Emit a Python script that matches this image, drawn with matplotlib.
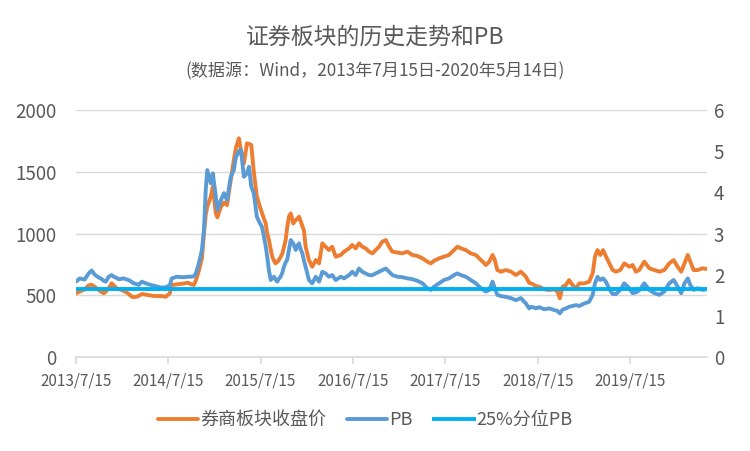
import matplotlib
matplotlib.use("Agg")
import matplotlib.pyplot as plt
import pandas as pd

plt.rcParams['font.family'] = ['Noto Sans CJK SC', 'DejaVu Sans']

title = "证券板块的历史走势和PB"
subtitle = "(数据源：Wind，2013年7月15日-2020年5月14日)"
series_names = ["券商板块收盘价", "PB", "25%分位PB"]

dates = [
    "2013-07-15", "2013-07-30", "2013-08-18", "2013-09-03", "2013-09-15", "2013-09-27",
    "2013-10-13", "2013-10-21", "2013-11-02", "2013-11-10", "2013-11-21", "2013-12-03",
    "2013-12-11", "2013-12-23", "2013-12-31", "2014-01-12", "2014-01-20", "2014-02-01",
    "2014-02-09", "2014-02-21", "2014-02-28", "2014-03-12", "2014-03-20", "2014-04-01",
    "2014-04-17", "2014-05-07", "2014-05-19", "2014-06-15", "2014-07-05", "2014-07-21",
    "2014-07-29",
    "2014-08-18", "2014-09-02", "2014-09-18", "2014-09-30", "2014-10-12", "2014-10-24",
    "2014-11-01", "2014-11-13", "2014-11-25", "2014-12-03", "2014-12-10", "2014-12-16",
    "2014-12-30", "2015-01-07", "2015-01-19", "2015-01-25", "2015-02-08", "2015-02-20",
    "2015-03-04", "2015-03-19", "2015-03-31", "2015-04-08", "2015-04-20", "2015-04-28",
    "2015-05-10", "2015-05-22", "2015-05-30", "2015-06-08", "2015-06-18", "2015-06-30",
    "2015-07-12",
    "2015-07-21", "2015-07-28", "2015-08-04", "2015-08-10", "2015-08-17", "2015-08-24",
    "2015-08-30", "2015-09-06", "2015-09-12", "2015-09-19", "2015-09-25", "2015-10-02",
    "2015-10-09", "2015-10-15", "2015-10-22", "2015-10-28", "2015-11-04", "2015-11-11",
    "2015-11-21", "2015-12-01", "2015-12-07", "2015-12-14", "2015-12-20", "2015-12-27",
    "2016-01-02", "2016-01-09", "2016-01-22", "2016-02-04", "2016-02-18", "2016-03-02",
    "2016-03-15", "2016-03-28", "2016-04-10", "2016-04-23", "2016-05-07", "2016-05-27",
    "2016-06-09", "2016-06-29",
    "2016-07-11", "2016-07-25", "2016-08-07", "2016-08-20", "2016-09-02", "2016-09-16",
    "2016-09-29", "2016-10-12", "2016-10-25", "2016-11-07", "2016-11-21", "2016-12-04",
    "2016-12-17", "2017-01-06", "2017-01-25", "2017-02-14", "2017-03-06", "2017-03-26",
    "2017-04-15", "2017-05-04", "2017-05-18", "2017-05-31", "2017-06-20",
    "2017-07-09", "2017-07-29", "2017-08-18", "2017-08-31", "2017-09-14", "2017-10-03",
    "2017-10-23", "2017-11-12", "2017-12-02", "2017-12-22", "2018-01-04", "2018-01-17",
    "2018-01-26", "2018-02-05", "2018-02-19", "2018-03-11", "2018-03-31", "2018-04-19",
    "2018-05-09", "2018-05-29", "2018-06-11",
    "2018-06-18", "2018-07-01", "2018-07-07", "2018-07-21", "2018-08-09", "2018-08-29",
    "2018-09-18", "2018-10-01", "2018-10-10", "2018-10-21", "2018-11-03", "2018-11-16",
    "2018-11-29", "2018-12-13", "2018-12-26", "2019-01-15", "2019-02-03", "2019-02-17",
    "2019-02-26", "2019-03-08", "2019-03-19", "2019-03-30", "2019-04-11", "2019-04-24",
    "2019-05-07", "2019-05-20", "2019-06-06",
    "2019-06-22", "2019-07-12", "2019-07-25", "2019-08-07", "2019-08-20", "2019-09-09",
    "2019-09-29", "2019-10-19", "2019-11-08", "2019-11-27", "2019-12-17", "2020-01-03",
    "2020-01-19", "2020-02-02", "2020-02-15", "2020-02-28", "2020-03-09", "2020-03-22",
    "2020-04-07", "2020-04-27", "2020-05-14",
]

close_price = [
    516, 529, 548, 580, 585, 569, 542, 530, 516, 530, 556, 597,
    580, 556, 550, 542, 535, 521, 510, 488, 485, 488, 495, 510,
    505, 498, 494, 494, 488, 516, 583,
    588, 591, 596, 602, 590, 583, 620, 700, 800, 1001, 1150, 1217,
    1298, 1380, 1163, 1130, 1217, 1250, 1230, 1433, 1595, 1690, 1771, 1676,
    1568, 1730, 1725, 1717, 1500, 1300, 1217,
    1163, 1120, 1082, 1000, 947, 870, 812, 780, 758, 770, 785, 810,
    839, 890, 947, 1050, 1136, 1163, 1082, 1109, 1120, 1136, 1100, 1060,
    1028, 893, 785, 731, 785, 758, 920, 893, 866, 893, 812, 826,
    853, 880,
    907, 880, 920, 893, 880, 853, 839, 866, 893, 934, 947, 893,
    853, 846, 839, 853, 826, 818, 799, 772, 758, 780, 799,
    812, 826, 866, 893, 880, 866, 839, 826, 785, 745, 772, 826,
    785, 704, 691, 704, 691, 664, 691, 650, 600,
    596, 583, 575, 569, 548, 542, 548, 529, 475, 569, 583, 623,
    583, 556, 596, 596, 610, 677, 812, 866, 826, 866, 812, 758,
    704, 691, 704,
    758, 731, 745, 691, 704, 772, 718, 704, 691, 704, 758, 785,
    731, 691, 758, 826, 772, 704, 704, 718, 712,
]

pb = [
    1.83, 1.91, 1.88, 2.03, 2.10, 2.00, 1.93, 1.91, 1.85, 1.83, 1.95, 1.99,
    1.95, 1.92, 1.89, 1.90, 1.91, 1.88, 1.87, 1.82, 1.79, 1.77, 1.75, 1.83,
    1.79, 1.75, 1.73, 1.69, 1.69, 1.75, 1.91,
    1.95, 1.94, 1.94, 1.95, 1.95, 1.96, 2.03, 2.28, 2.60, 3.09, 4.06, 4.54,
    4.22, 4.46, 3.89, 3.57, 3.81, 3.98, 3.81, 4.38, 4.54, 4.85, 5.00, 5.03,
    4.38, 4.46, 4.62, 4.14, 3.98, 3.41, 3.25,
    3.15, 2.92, 2.70, 2.44, 2.10, 1.87, 1.92, 1.95, 1.88, 1.83, 1.90, 1.95,
    2.05, 2.19, 2.30, 2.36, 2.60, 2.84, 2.76, 2.60, 2.70, 2.76, 2.62, 2.52,
    2.35, 2.19, 1.87, 1.79, 1.95, 1.83, 2.07, 2.03, 1.95, 1.99, 1.87, 1.95,
    1.91, 1.99,
    2.07, 1.99, 2.15, 2.07, 2.03, 1.99, 1.99, 2.03, 2.07, 2.11, 2.15, 2.07,
    1.99, 1.95, 1.94, 1.91, 1.89, 1.85, 1.79, 1.67, 1.63, 1.71, 1.79,
    1.87, 1.91, 1.99, 2.03, 1.99, 1.95, 1.87, 1.79, 1.67, 1.59, 1.63, 1.83,
    1.67, 1.51, 1.48, 1.46, 1.43, 1.38, 1.43, 1.30, 1.18,
    1.22, 1.20, 1.18, 1.21, 1.16, 1.18, 1.14, 1.12, 1.06, 1.15, 1.18, 1.22,
    1.24, 1.26, 1.24, 1.30, 1.34, 1.51, 1.79, 1.95, 1.87, 1.91, 1.82, 1.65,
    1.53, 1.53, 1.63,
    1.79, 1.67, 1.55, 1.57, 1.62, 1.79, 1.63, 1.55, 1.51, 1.59, 1.79, 1.87,
    1.71, 1.55, 1.79, 1.91, 1.75, 1.63, 1.67, 1.63, 1.65,
]

pb_25pct = 1.64

left_ticks = [0, 500, 1000, 1500, 2000]
right_ticks = [0, 1, 2, 3, 4, 5, 6]
x_tick_dates = ["2013-07-15", "2014-07-15", "2015-07-15", "2016-07-15",
                "2017-07-15", "2018-07-15", "2019-07-15"]
x_tick_labels = ["2013/7/15", "2014/7/15", "2015/7/15", "2016/7/15",
                 "2017/7/15", "2018/7/15", "2019/7/15"]

c_orange = "#ED7D31"
c_blue = "#5B9BD5"
c_cyan = "#00B0F0"
c_text = "#595959"
c_grid = "#D9D9D9"

d = pd.to_datetime(dates)

fig = plt.figure(figsize=(7.5, 4.51), dpi=100)
ax = fig.add_axes([76 / 750, 1 - 357 / 451, 631 / 750, 247 / 451])
ax2 = ax.twinx()

lw = 2.8
l1, = ax.plot(d, close_price, color=c_orange, lw=lw, solid_capstyle="round", zorder=2)
l2, = ax2.plot(d, pb, color=c_blue, lw=lw, solid_capstyle="round", zorder=3)
l3, = ax2.plot([d[0], d[-1]], [pb_25pct, pb_25pct], color=c_cyan, lw=lw, zorder=4)

ax.set_ylim(0, 2000)
ax2.set_ylim(0, 6)
ax.set_xlim(d[0], d[-1])
ax.set_yticks(left_ticks)
ax2.set_yticks(right_ticks)
ax.set_yticklabels([str(v) for v in left_ticks])
ax2.set_yticklabels([str(v) for v in right_ticks])
ax.set_xticks(pd.to_datetime(x_tick_dates))
ax.set_xticklabels(x_tick_labels)

ax.grid(axis="y", color=c_grid, lw=1)
ax.set_axisbelow(True)
for a in (ax, ax2):
    for s in ("top", "left", "right"):
        a.spines[s].set_visible(False)
    a.spines["bottom"].set_color(c_grid)
    a.spines["bottom"].set_linewidth(1.2)
ax2.spines["bottom"].set_visible(False)

ax.tick_params(axis="y", length=0, pad=14, labelsize=13.5, labelcolor=c_text)
ax2.tick_params(axis="y", length=0, pad=5, labelsize=13.5, labelcolor=c_text)
ax.tick_params(axis="x", length=5, width=1.2, color=c_grid, pad=6,
               labelsize=11, labelcolor=c_text)

fig.text(0.5, 1 - 37 / 451, title, ha="center", va="center", fontsize=16.5, color=c_text)
fig.text(0.5, 1 - 71 / 451, subtitle, ha="center", va="center", fontsize=12.3, color=c_text)

fig.legend([l1, l2, l3], series_names, loc="center", bbox_to_anchor=(0.487, 1 - 420 / 451),
           ncol=3, frameon=False, fontsize=13, labelcolor=c_text, handlelength=2.2,
           handletextpad=0.15, columnspacing=1.15)

fig.savefig("out.png", dpi=100)
